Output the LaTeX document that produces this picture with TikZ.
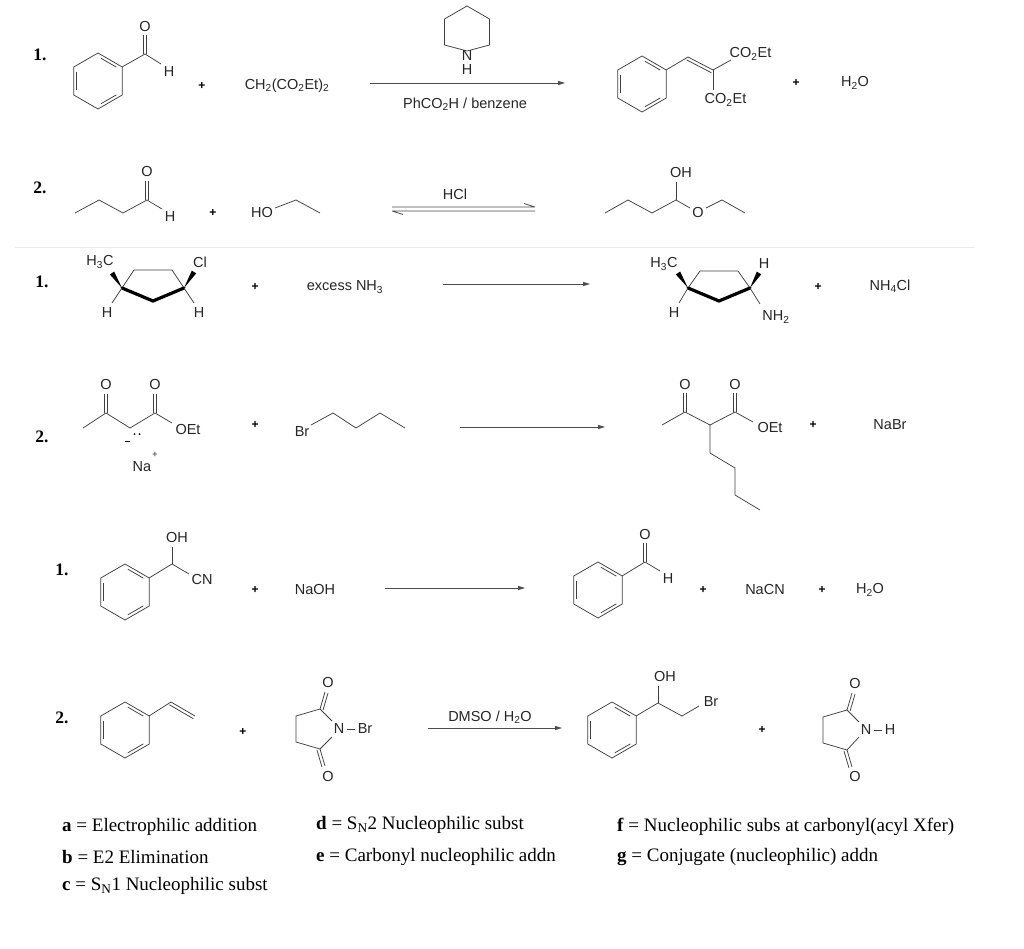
\documentclass[tikz,border=0pt]{standalone}
\usepackage{fontspec}
\setmainfont{Liberation Serif}
\newfontfamily\chemfont{Liberation Sans}
\usetikzlibrary{arrows.meta,calc}
\tikzset{
  bond/.style={line width=0.75pt, draw=black!75},
  bold bond/.style={line width=3.2pt, draw=black},
  lab/.style={font=\chemfont\fontsize{14.5}{15}\selectfont, text=black!85, inner sep=0.5pt},
  num/.style={font=\bfseries\fontsize{17.5}{18}\selectfont, inner sep=0pt},
  leg/.style={font=\fontsize{19}{20}\selectfont, anchor=west, inner sep=0pt},
  rxn/.style={line width=0.8pt, draw=black!70, -{Triangle[length=7pt,width=4pt]}},
  plus/.style={font=\chemfont\bfseries\fontsize{12}{12}\selectfont, inner sep=0pt},
}
\newcommand\benz[2]{\begin{scope}[shift={(#1,#2)}]
\draw[bond] (30:28)--(90:28)--(150:28)--(210:28)--(270:28)--(330:28)--cycle;
\draw[bond] (277:23)--(323:23); \draw[bond] (157:23)--(203:23); \draw[bond] (37:23)--(83:23);
\end{scope}}
\newcommand\dbond[2]{\draw[bond] (#1)--(#2); \draw[bond] ($(#1)!3.2pt!-90:(#2)$)--($(#2)!3.2pt!90:(#1)$);}
\newcommand\co[2]{\draw[bond] (#1-1.7,#2)--(#1-1.7,#2-19); \draw[bond] (#1+1.7,#2)--(#1+1.7,#2-19);}
\newcommand\wdg[4]{\fill[black] (#1,#2) -- ($(#3,#4)!2.6pt!90:(#1,#2)$) -- ($(#3,#4)!2.6pt!-90:(#1,#2)$) -- cycle;}
\begin{document}
\begin{tikzpicture}[x=1pt,y=-1pt]
\useasboundingbox[fill=white] (0,0) rectangle (1024,949);
% ---------- Row 1 ----------
\node[num] (n1) at (40,55) {1.};
\benz{98}{81}
\draw[bond] (122,67)--(145,54);
\co{145}{54}
\node[lab] (o1) at (145,27) {O};
\draw[bond] (145,54)--(161,64);
\node[lab] (h1) at (169,72) {H};
\node[plus] (p1) at (202,86) {+};
\node[lab] (mal) at (287,86) {CH\textsubscript{2}(CO\textsubscript{2}Et)\textsubscript{2}};
\coordinate (a1s) at (370,83); \coordinate (a1e) at (565,83);
\draw[rxn] (a1s)--(a1e);
\begin{scope}[shift={(467,32)}]
\draw[bond] (90:19)--(30:26)--(330:26)--(270:26)--(210:26)--(150:26)--(90:19);
\end{scope}
\node[lab] (pipN) at (467,56) {N};
\node[lab] (pipH) at (467,70) {H};
\node[lab] (cat1) at (465,104) {PhCO\textsubscript{2}H / benzene};
\benz{642}{84}
\draw[bond] (666,70)--(688,57);
\dbond{688,57}{713,70}
\draw[bond] (713,70)--(731,60);
\node[lab,anchor=west] (ce1) at (729,54) {CO\textsubscript{2}Et};
\draw[bond] (713,70)--(713,90);
\node[lab,anchor=west] (ce2) at (704,100) {CO\textsubscript{2}Et};
\node[plus] (p2) at (796,83) {+};
\node[lab] (w1) at (855,83) {H\textsubscript{2}O};
% ---------- Row 2 ----------
\node[num] (n2) at (40,188) {2.};
\draw[bond] (75,213)--(99,200)--(123,213)--(147,200)--(162,209);
\co{147}{200}
\node[lab] (o2) at (147,172) {O};
\node[lab] (h2) at (170,217) {H};
\node[plus] (p3) at (213,213) {+};
\node[lab] (ho) at (262,213) {HO};
\draw[bond] (275,208)--(296,200)--(320,213);
\draw[line width=0.8pt, draw=black!70] (392,207)--(535,207) (535,207)--(524,203.5);
\draw[line width=0.8pt, draw=black!70] (392,211)--(535,211) (392,211)--(403,214.5);
\node[lab] (hcl) at (455,194) {HCl};
\draw[bond] (605,213)--(628,200)--(652,213)--(676,200)--(690,208);
\draw[bond] (676,200)--(676,182);
\node[lab] (oh2) at (681,173) {OH};
\node[lab] (oe2) at (698,213) {O};
\draw[bond] (706,208)--(722,200)--(745,213);
% separator
\draw[black!8, line width=0.8pt] (15,247)--(975,247);
% ---------- Row 3 ----------
\node[num] (n3) at (42,282) {1.};
\draw[bond] (122,288)--(134,270)--(172,270)--(184,288);
\draw[bold bond, line cap=round] (122,288)--(153,301)--(184,288);
\wdg{122}{288}{112}{273}
\node[lab] (ch3a) at (100,262) {H\textsubscript{3}C};
\wdg{184}{288}{194}{272}
\node[lab] (cla) at (200,262) {Cl};
\draw[bond] (122,288)--(112,303); \node[lab] (ha1) at (107,313) {H};
\draw[bond] (184,288)--(194,303); \node[lab] (ha2) at (199,313) {H};
\node[plus] (p4) at (255,287) {+};
\node[lab] (nh3) at (345,287) {excess NH\textsubscript{3}};
\coordinate (a3s) at (443,284); \coordinate (a3e) at (590,284);
\draw[rxn] (a3s)--(a3e);
\draw[bond] (688,288)--(700,271)--(738,271)--(750,288);
\draw[bold bond, line cap=round] (688,288)--(719,301)--(750,288);
\wdg{688}{288}{678}{273}
\node[lab] (ch3b) at (664,264) {H\textsubscript{3}C};
\wdg{750}{288}{759}{273}
\node[lab] (hb1) at (764,264) {H};
\draw[bond] (688,288)--(679,303); \node[lab] (hb2) at (674,313) {H};
\draw[bond] (750,288)--(760,304); \node[lab] (nh2) at (776,317) {NH\textsubscript{2}};
\node[plus] (p5) at (818,287) {+};
\node[lab] (nh4) at (890,286) {NH\textsubscript{4}Cl};
% ---------- Row 4 ----------
\node[num] (n4) at (42,437) {2.};
\draw[bond] (83,428)--(106,413)--(130,428)--(155,413)--(172,423);
\co{106}{413}\co{155}{413}
\node[lab] (o4a) at (106,385) {O};
\node[lab] (o4b) at (155,385) {O};
\node[lab] (oet1) at (188,430) {OEt};
\fill (134.5,434) circle (1pt) (139.5,434) circle (1pt);
\draw[line width=0.8pt] (125,441)--(130,441);
\node[lab] (na) at (142,467) {Na};
\node[lab, font=\chemfont\fontsize{9}{9}\selectfont] (nap) at (155,455) {+};
\node[plus] (p6) at (255,425) {+};
\node[lab] (br1) at (302,432) {Br};
\draw[bond] (311,425)--(333,413)--(356,428)--(380,413)--(405,428);
\coordinate (a4s) at (460,427); \coordinate (a4e) at (605,427);
\draw[rxn] (a4s)--(a4e);
\draw[bond] (662,425)--(685,412)--(710,425)--(735,412)--(753,422);
\co{685}{412}\co{735}{412}
\node[lab] (o4c) at (685,385) {O};
\node[lab] (o4d) at (735,385) {O};
\node[lab] (oet2) at (770,428) {OEt};
\draw[bond] (710,425)--(710,453)--(735,468)--(735,495)--(760,510);
\node[plus] (p7) at (813,425) {+};
\node[lab] (nabr) at (890,425) {NaBr};
% ---------- Row 5 ----------
\node[num] (n5) at (62,570) {1.};
\benz{125}{592}
\draw[bond] (149,578)--(172,564)--(189,574);
\draw[bond] (172,564)--(172,547);
\node[lab] (oh5) at (177,538) {OH};
\node[lab] (cn) at (202,580) {CN};
\node[plus] (p8) at (255,590) {+};
\node[lab] (naoh) at (315,590) {NaOH};
\coordinate (a5s) at (385,588); \coordinate (a5e) at (525,588);
\draw[rxn] (a5s)--(a5e);
\benz{598}{590}
\draw[bond] (622,576)--(645,562)--(660,571);
\co{645}{562}
\node[lab] (o5) at (645,535) {O};
\node[lab] (h5) at (668,579) {H};
\node[plus] (p9) at (703,590) {+};
\node[lab] (nacn) at (765,590) {NaCN};
\node[plus] (p10) at (822,590) {+};
\node[lab] (w2) at (870,590) {H\textsubscript{2}O};
% ---------- Row 6 ----------
\node[num] (n6) at (62,718) {2.};
\benz{125}{730}
\draw[bond] (149,716)--(171,702);
\dbond{171,702}{195,716}
\node[plus] (p11) at (243,732) {+};
\draw[bond] (320,709)--(296,716)--(296,742)--(320,749);
\draw[bond] (320,709)--(332,721); \draw[bond] (320,749)--(332,737);
\dbond{320,709}{325,692}
\dbond{320,749}{325,766}
\node[lab] (ob1) at (328,683) {O};
\node[lab] (ob2) at (328,777) {O};
\node[lab] (nbsn) at (339,729) {N};
\draw[bond] (347,729)--(355,729);
\node[lab] (nbsbr) at (365,729) {Br};
\node[lab] (dmso) at (490,717) {DMSO / H\textsubscript{2}O};
\coordinate (a6s) at (428,728); \coordinate (a6e) at (562,728);
\draw[rxn] (a6s)--(a6e);
\benz{612}{730}
\draw[bond] (636,716)--(658,703)--(682,716)--(699,706);
\draw[bond] (658,703)--(658,686);
\node[lab] (oh6) at (665,677) {OH};
\node[lab] (br6) at (711,702) {Br};
\node[plus] (p12) at (762,730) {+};
\draw[bond] (847,710)--(823,717)--(823,743)--(847,750);
\draw[bond] (847,710)--(859,722); \draw[bond] (847,750)--(859,737);
\dbond{847,710}{852,693}
\dbond{847,750}{852,767}
\node[lab] (os1) at (855,684) {O};
\node[lab] (os2) at (855,777) {O};
\node[lab] (sn) at (866,730) {N};
\draw[bond] (874,730)--(882,730);
\node[lab] (sh) at (890,730) {H};
% ---------- Legend ----------
\node[leg] (la) at (62,827) {\textbf{a} = Electrophilic addition};
\node[leg] (lb) at (62,857) {\textbf{b} = E2 Elimination};
\node[leg] (lc) at (62,886) {\textbf{c} = S\textsubscript{N}1 Nucleophilic subst};
\node[leg] (ld) at (316,825) {\textbf{d} = S\textsubscript{N}2 Nucleophilic subst};
\node[leg] (le) at (316,857) {\textbf{e} = Carbonyl nucleophilic addn};
\node[leg] (lf) at (617,827) {\textbf{f} = Nucleophilic subs at carbonyl(acyl Xfer)};
\node[leg] (lg) at (617,857) {\textbf{g} = Conjugate (nucleophilic) addn};
\end{tikzpicture}
\end{document}
